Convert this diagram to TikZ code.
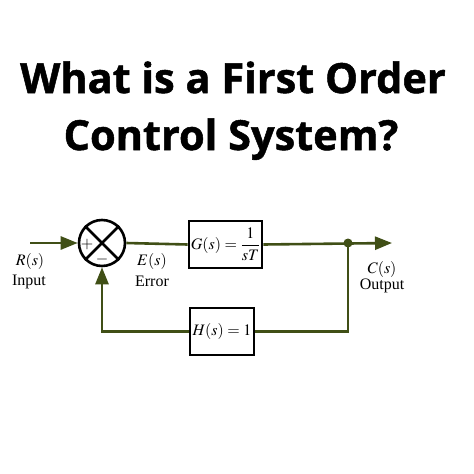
\documentclass[tikz,border=0pt]{standalone}
\usepackage{mathptmx}
\usepackage{fontspec}
\setmainfont{Liberation Serif}
\newfontfamily\titlefont{Open Sans}[BoldFeatures={FakeBold=1.2}]
\usetikzlibrary{arrows.meta}
\definecolor{sigline}{HTML}{404F16}
\begin{document}
\begin{tikzpicture}[x=1pt,y=-1pt,
  sig/.style={draw=sigline,line width=2.6pt},
  tip/.style={-{Triangle[length=17pt,width=13pt]}},
  blk/.style={draw=black,line width=2.6pt,fill=white,inner sep=0pt,font=\fontsize{16}{19}\selectfont},
  lbl/.style={anchor=base,inner sep=0pt,font=\fontsize{16}{19}\selectfont},
  ttl/.style={anchor=base,inner sep=0pt,font=\titlefont\bfseries\fontsize{41.5}{48}\selectfont}]
\useasboundingbox[fill=white] (0,0) rectangle (474,474);
\node[ttl] (t1) at (233,93) {What is a First Order};
\node[ttl] (t2) at (231,150) {Control System?};
% blocks
\node[circle,draw=black,line width=2.6pt,minimum size=46pt,inner sep=0pt] (sum) at (102,243) {};
\draw[line width=2.6pt] (sum.north west) -- (sum.south east);
\draw[line width=2.6pt] (sum.north east) -- (sum.south west);
\node[inner sep=0pt,font=\fontsize{16}{18}\selectfont] (plus) at (87,244) {$+$};
\node[inner sep=0pt,font=\fontsize{16}{18}\selectfont] (minus) at (102,259) {$-$};
\node[blk,minimum width=73pt,minimum height=47pt] (G) at (225.5,244.5) {$\displaystyle G(s)=\frac{1}{sT}$};
\node[blk,minimum width=64pt,minimum height=47pt] (H) at (222,331.5) {$H(s)=1$};
\coordinate (in) at (30,243);
\coordinate (out) at (392,243);
\node[circle,fill=sigline,inner sep=0pt,minimum size=9pt] (dot) at (348,243) {};
% connectors
\draw[sig,tip] (in) -- (sum.west);
\draw[sig] (sum.east) -- (G.west);
\draw[sig,tip] (G.east) -- (out);
\draw[sig] (dot.center) |- (H.east);
\draw[sig,tip] (H.west) -| (sum.south);
% labels
\node[lbl] (rs) at (30,265) {$R(s)$};
\node[lbl] (rin) at (29,285) {Input};
\node[lbl] (es) at (152,265) {$E(s)$};
\node[lbl] (eerr) at (152,286) {Error};
\node[lbl] (cs) at (382,273) {$C(s)$};
\node[lbl] (cout) at (382,289) {Output};
\end{tikzpicture}
\end{document}
